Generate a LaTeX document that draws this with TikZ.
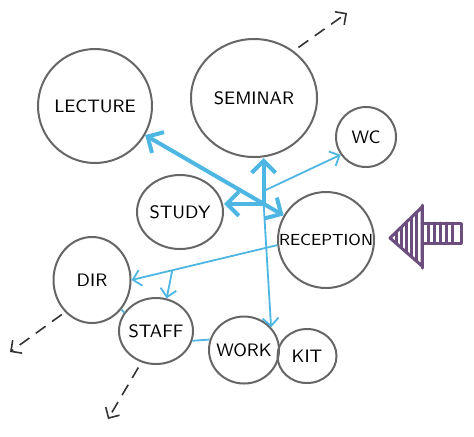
\documentclass[tikz,border=0pt]{standalone}
\usepackage{tikz}
\usetikzlibrary{arrows.meta,shapes.geometric,calc}
\definecolor{planblue}{RGB}{77,182,226}
\definecolor{entrypurple}{RGB}{108,78,126}

\begin{document}
\begin{tikzpicture}[x=0.5pt,y=-0.5pt,
  room/.style={ellipse,draw=black!60,line width=1pt,inner sep=0pt},
  every label/.style={font=\sffamily\small},
  mainflow/.style={draw=planblue,line width=2pt,>={Straight Barb[length=6pt,width=12pt]}},
  sideflow/.style={draw=planblue,line width=0.9pt,>={Straight Barb[length=4pt,width=8pt]}},
  exit/.style={draw=black!80,line width=0.8pt,dash pattern=on 6pt off 4pt,>={Straight Barb[length=4pt,width=8pt]}},
  entry/.style={draw=entrypurple,line width=1.5pt,line cap=round,line join=round}]
\useasboundingbox (0,0) rectangle (474,436);

% Rooms
\node[room,minimum width=57pt,minimum height=57pt,label=center:LECTURE] (lecture) at (95,106) {};
\node[room,minimum width=63pt,minimum height=59pt,label=center:SEMINAR] (seminar) at (254,98) {};
\node[room,minimum width=30pt,minimum height=30pt,label=center:WC] (wc) at (366,137) {};
\node[room,minimum width=43pt,minimum height=37pt,label=center:STUDY] (study) at (180,212) {};
\node[room,minimum width=48pt,minimum height=48pt,label={[font=\sffamily\footnotesize]center:RECEPTION}] (reception) at (326,240) {};
\node[room,minimum width=38.5pt,minimum height=43pt,label=center:DIR] (dir) at (92,280) {};
\node[room,minimum width=37pt,minimum height=33pt,label=center:STAFF] (staff) at (156,331) {};
\node[room,minimum width=35pt,minimum height=33.5pt,label=center:WORK] (work) at (244,350) {};
\node[room,minimum width=29.5pt,minimum height=27pt,label=center:KIT] (kit) at (307,356) {};

% Circulation
\coordinate (hub) at ($(lecture)!0.73!(reception)$);
\coordinate (wcfork) at ($(hub)!0.28!(hub |- seminar.south)$);
\coordinate (dirfork) at ($(reception.186)!0.72!(dir.east)$);

\draw[mainflow,<->] (lecture) -- (reception);
\draw[mainflow,->] (hub) -- (hub |- seminar.south);
\draw[mainflow,->] (hub) -- (hub -| study.east);

\draw[sideflow,->] (wcfork) -- (wc.215);
\draw[sideflow,->] (hub) -- (work.40);
\draw[sideflow,->] (reception.186) -- (dir.east);
\draw[sideflow,->] (dirfork) -- (staff.72);
\draw[sideflow] (staff.345) -- (work.163);
\draw[sideflow] (dir.315) -- (staff.150);

% Ways out
\coordinate (out_n) at (347,13);
\coordinate (out_w) at (10,352);
\coordinate (out_s) at (108,419);
\draw[exit,->,shorten <=3pt] (seminar.50) -- (out_n);
\draw[exit,->,shorten <=2pt] (dir.230) -- (out_w);
\draw[exit,->,shorten <=3pt] (staff.245) -- (out_s);

% Entrance
\draw[entry] (390,238) -- (422,207) -- (422,266) -- cycle;
\draw[entry] (422,205) -- (422,268);
\draw[entry] (422,223) -- (461,223) -- (461,243) -- (422,243);
\begin{scope}
\clip (390,238) -- (422,207) -- (422,266) -- cycle;
\foreach \x in {396,401,...,418}
  \draw[entry] (\x,200) -- (\x,275);
\end{scope}
\foreach \x in {428,434,...,456}
  \draw[entry] (\x,223) -- (\x,243);
\end{tikzpicture}
\end{document}
